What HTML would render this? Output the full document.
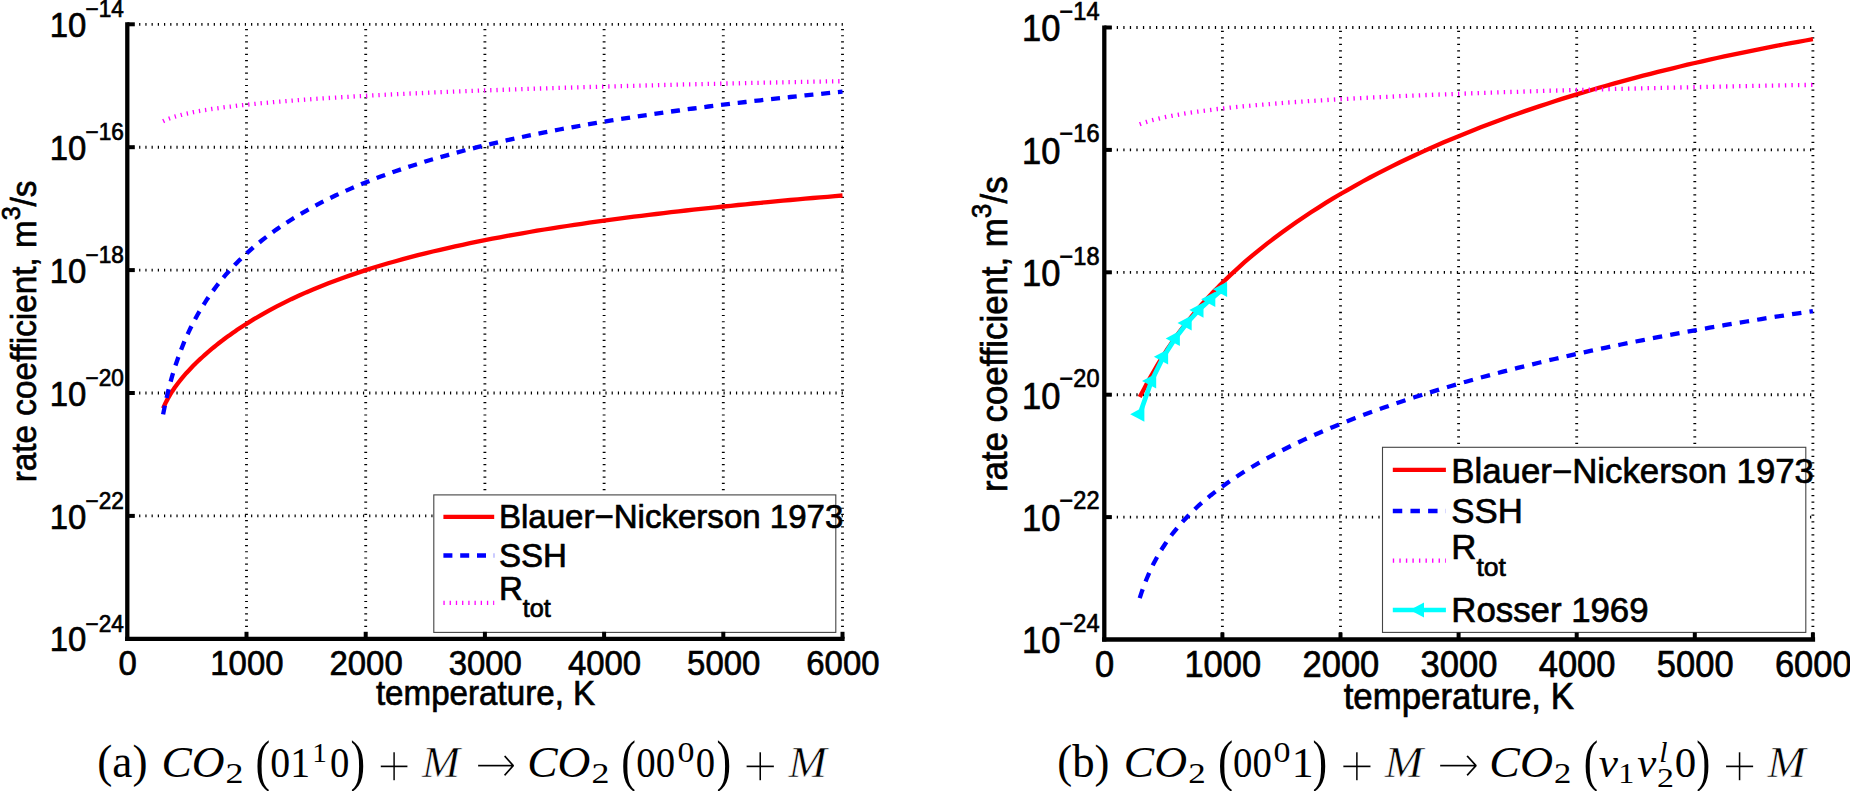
<!DOCTYPE html>
<html><head><meta charset="utf-8"><title>Rate coefficients</title>
<style>html,body{margin:0;padding:0;background:#fff;overflow:hidden}svg{display:block}</style></head><body>
<svg width="1850" height="791" viewBox="0 0 1850 791">
<rect width="1850" height="791" fill="#fff"/>
<g stroke="#000" stroke-width="2.85" stroke-dasharray="1.200 5.017" stroke-dashoffset="0.600" fill="none">
<path d="M127.3,24.3 H843.3"/>
<path d="M127.3,147.2 H843.3"/>
<path d="M127.3,270.1 H843.3"/>
<path d="M127.3,393.0 H843.3"/>
<path d="M127.3,515.9 H843.3"/>
<path d="M246.5,638.8 V26.9"/>
<path d="M365.7,638.8 V26.9"/>
<path d="M484.9,638.8 V26.9"/>
<path d="M604.1,638.8 V26.9"/>
<path d="M723.3,638.8 V26.9"/>
<path d="M842.5,638.8 V26.9"/>
</g>
<path d="M163.1,408.3 L165.4,403.3 L167.7,398.9 L170.0,394.9 L172.3,391.2 L174.6,387.7 L177.0,384.5 L179.3,381.5 L181.6,378.6 L183.9,375.9 L186.2,373.2 L188.6,370.7 L190.9,368.2 L193.2,365.8 L195.5,363.5 L197.8,361.3 L200.1,359.1 L202.5,357.0 L204.8,354.9 L207.1,352.8 L209.4,350.9 L211.7,348.9 L214.1,347.0 L216.4,345.1 L218.7,343.3 L221.0,341.5 L223.3,339.8 L225.6,338.0 L228.0,336.3 L230.3,334.7 L232.6,333.0 L234.9,331.4 L237.2,329.8 L239.5,328.3 L241.9,326.7 L244.2,325.2 L246.5,323.8 L253.9,319.2 L261.4,314.8 L268.9,310.6 L276.3,306.6 L283.8,302.9 L291.2,299.2 L298.6,295.8 L306.1,292.4 L313.6,289.3 L321.0,286.2 L328.4,283.3 L335.9,280.4 L343.4,277.7 L350.8,275.1 L358.2,272.6 L365.7,270.1 L373.1,267.8 L380.6,265.5 L388.1,263.3 L395.5,261.2 L402.9,259.1 L410.4,257.2 L417.9,255.2 L425.3,253.4 L432.8,251.5 L440.2,249.8 L447.7,248.1 L455.1,246.4 L462.6,244.8 L470.0,243.2 L477.4,241.7 L484.9,240.2 L492.4,238.7 L499.8,237.3 L507.2,235.9 L514.7,234.6 L522.1,233.3 L529.6,232.0 L537.0,230.7 L544.5,229.5 L551.9,228.3 L559.4,227.2 L566.9,226.0 L574.3,224.9 L581.8,223.8 L589.2,222.7 L596.6,221.7 L604.1,220.6 L611.5,219.6 L619.0,218.6 L626.4,217.7 L633.9,216.7 L641.3,215.8 L648.8,214.9 L656.2,214.0 L663.7,213.1 L671.1,212.2 L678.6,211.4 L686.0,210.5 L693.5,209.7 L700.9,208.9 L708.4,208.1 L715.8,207.3 L723.3,206.5 L730.8,205.8 L738.2,205.0 L745.6,204.3 L753.1,203.5 L760.5,202.8 L768.0,202.1 L775.4,201.4 L782.9,200.7 L790.3,200.0 L797.8,199.4 L805.2,198.7 L812.7,198.0 L820.1,197.4 L827.6,196.8 L835.0,196.1 L842.5,195.5" fill="none" stroke="#f00" stroke-width="4.3"/>
<path d="M163.1,414.4 L165.4,403.1 L167.7,393.1 L170.0,383.9 L172.3,375.6 L174.6,368.0 L177.0,361.0 L179.3,354.5 L181.6,348.4 L183.9,342.6 L186.2,337.3 L188.6,332.2 L190.9,327.3 L193.2,322.8 L195.5,318.4 L197.8,314.2 L200.1,310.3 L202.5,306.4 L204.8,302.8 L207.1,299.2 L209.4,295.8 L211.7,292.5 L214.1,289.4 L216.4,286.3 L218.7,283.3 L221.0,280.4 L223.3,277.7 L225.6,274.9 L228.0,272.3 L230.3,269.7 L232.6,267.2 L234.9,264.8 L237.2,262.4 L239.5,260.1 L241.9,257.9 L244.2,255.7 L246.5,253.5 L253.9,246.9 L261.4,240.8 L268.9,235.0 L276.3,229.6 L283.8,224.5 L291.2,219.7 L298.6,215.1 L306.1,210.8 L313.6,206.6 L321.0,202.7 L328.4,198.9 L335.9,195.3 L343.4,191.9 L350.8,188.6 L358.2,185.4 L365.7,182.4 L373.1,179.4 L380.6,176.6 L388.1,173.9 L395.5,171.2 L402.9,168.7 L410.4,166.2 L417.9,163.9 L425.3,161.5 L432.8,159.3 L440.2,157.2 L447.7,155.1 L455.1,153.0 L462.6,151.0 L470.0,149.1 L477.4,147.2 L484.9,145.4 L492.4,143.6 L499.8,141.9 L507.2,140.2 L514.7,138.6 L522.1,137.0 L529.6,135.4 L537.0,133.9 L544.5,132.4 L551.9,131.0 L559.4,129.5 L566.9,128.2 L574.3,126.8 L581.8,125.5 L589.2,124.2 L596.6,122.9 L604.1,121.6 L611.5,120.4 L619.0,119.2 L626.4,118.1 L633.9,116.9 L641.3,115.8 L648.8,114.7 L656.2,113.6 L663.7,112.5 L671.1,111.5 L678.6,110.5 L686.0,109.4 L693.5,108.5 L700.9,107.5 L708.4,106.5 L715.8,105.6 L723.3,104.7 L730.8,103.7 L738.2,102.9 L745.6,102.0 L753.1,101.1 L760.5,100.3 L768.0,99.4 L775.4,98.6 L782.9,97.8 L790.3,97.0 L797.8,96.2 L805.2,95.4 L812.7,94.6 L820.1,93.9 L827.6,93.1 L835.0,92.4 L842.5,91.7" fill="none" stroke="#00f" stroke-width="4.3" stroke-dasharray="9 7.8"/>
<path d="M163.1,121.2 L165.4,120.1 L167.7,119.1 L170.0,118.3 L172.3,117.5 L174.6,116.7 L177.0,116.0 L179.3,115.4 L181.6,114.8 L183.9,114.2 L186.2,113.7 L188.6,113.2 L190.9,112.7 L193.2,112.2 L195.5,111.8 L197.8,111.3 L200.1,110.9 L202.5,110.5 L204.8,110.1 L207.1,109.8 L209.4,109.4 L211.7,109.0 L214.1,108.7 L216.4,108.4 L218.7,108.1 L221.0,107.7 L223.3,107.4 L225.6,107.1 L228.0,106.8 L230.3,106.6 L232.6,106.3 L234.9,106.0 L237.2,105.7 L239.5,105.5 L241.9,105.2 L244.2,105.0 L246.5,104.7 L253.9,104.0 L261.4,103.2 L268.9,102.6 L276.3,101.9 L283.8,101.3 L291.2,100.7 L298.6,100.1 L306.1,99.6 L313.6,99.0 L321.0,98.5 L328.4,98.0 L335.9,97.6 L343.4,97.1 L350.8,96.7 L358.2,96.2 L365.7,95.8 L373.1,95.4 L380.6,95.0 L388.1,94.6 L395.5,94.3 L402.9,93.9 L410.4,93.5 L417.9,93.2 L425.3,92.9 L432.8,92.5 L440.2,92.2 L447.7,91.9 L455.1,91.6 L462.6,91.3 L470.0,91.0 L477.4,90.7 L484.9,90.4 L492.4,90.2 L499.8,89.9 L507.2,89.6 L514.7,89.4 L522.1,89.1 L529.6,88.9 L537.0,88.6 L544.5,88.4 L551.9,88.1 L559.4,87.9 L566.9,87.7 L574.3,87.4 L581.8,87.2 L589.2,87.0 L596.6,86.8 L604.1,86.6 L611.5,86.4 L619.0,86.2 L626.4,86.0 L633.9,85.8 L641.3,85.6 L648.8,85.4 L656.2,85.2 L663.7,85.0 L671.1,84.8 L678.6,84.6 L686.0,84.4 L693.5,84.3 L700.9,84.1 L708.4,83.9 L715.8,83.8 L723.3,83.6 L730.8,83.4 L738.2,83.3 L745.6,83.1 L753.1,82.9 L760.5,82.8 L768.0,82.6 L775.4,82.5 L782.9,82.3 L790.3,82.2 L797.8,82.0 L805.2,81.9 L812.7,81.7 L820.1,81.6 L827.6,81.4 L835.0,81.3 L842.5,81.2" fill="none" stroke="#f0f" stroke-width="4.3" stroke-dasharray="1.3 4.917"/>
<rect x="433.8" y="494.9" width="402.0" height="137.5" fill="#fff" stroke="#444" stroke-width="1.1"/>
<path d="M443.4,516.9 H494.2" stroke="#f00" stroke-width="4.3"/>
<text transform="translate(498.90 528.30) scale(0.9780 1)" font-size="33.8" text-anchor="start" font-family="Liberation Sans, sans-serif" stroke="#000" stroke-width="0.7">Blauer−Nickerson 1973</text>
<path d="M443.4,555.5 H494.2" stroke="#00f" stroke-width="4.3" stroke-dasharray="9 7.8"/>
<text transform="translate(498.90 567.20) scale(0.9780 1)" font-size="33.8" text-anchor="start" font-family="Liberation Sans, sans-serif" stroke="#000" stroke-width="0.7">SSH</text>
<path d="M443.4,602.8 H494.2" stroke="#f0f" stroke-width="4.3" stroke-dasharray="1.3 4.917"/>
<text transform="translate(498.90 600.10) scale(0.9780 1)" font-size="33.8" text-anchor="start" font-family="Liberation Sans, sans-serif" stroke="#000" stroke-width="0.7">R<tspan font-size="25.8" dy="16.8">tot</tspan></text>
<g stroke="#000" stroke-width="4.3" fill="none">
<path d="M127.3,22.2 V640.9"/>
<path d="M125.1,638.8 H844.6"/>
</g>
<g stroke="#000" stroke-width="4" fill="none">
<path d="M127.3,24.3 h7.5"/>
<path d="M127.3,147.2 h7.5"/>
<path d="M127.3,270.1 h7.5"/>
<path d="M127.3,393.0 h7.5"/>
<path d="M127.3,515.9 h7.5"/>
<path d="M246.5,638.8 v-7"/>
<path d="M365.7,638.8 v-7"/>
<path d="M484.9,638.8 v-7"/>
<path d="M604.1,638.8 v-7"/>
<path d="M723.3,638.8 v-7"/>
<path d="M842.5,638.8 v-7"/>
</g>
<text transform="translate(127.70 674.60) scale(0.9250 1)" font-size="35.6" text-anchor="middle" font-family="Liberation Sans, sans-serif" stroke="#000" stroke-width="0.7">0</text>
<text transform="translate(246.90 674.60) scale(0.9250 1)" font-size="35.6" text-anchor="middle" font-family="Liberation Sans, sans-serif" stroke="#000" stroke-width="0.7">1000</text>
<text transform="translate(366.10 674.60) scale(0.9250 1)" font-size="35.6" text-anchor="middle" font-family="Liberation Sans, sans-serif" stroke="#000" stroke-width="0.7">2000</text>
<text transform="translate(485.30 674.60) scale(0.9250 1)" font-size="35.6" text-anchor="middle" font-family="Liberation Sans, sans-serif" stroke="#000" stroke-width="0.7">3000</text>
<text transform="translate(604.50 674.60) scale(0.9250 1)" font-size="35.6" text-anchor="middle" font-family="Liberation Sans, sans-serif" stroke="#000" stroke-width="0.7">4000</text>
<text transform="translate(723.70 674.60) scale(0.9250 1)" font-size="35.6" text-anchor="middle" font-family="Liberation Sans, sans-serif" stroke="#000" stroke-width="0.7">5000</text>
<text transform="translate(842.90 674.60) scale(0.9250 1)" font-size="35.6" text-anchor="middle" font-family="Liberation Sans, sans-serif" stroke="#000" stroke-width="0.7">6000</text>
<text transform="translate(86.40 36.90) scale(0.9250 1)" font-size="35.6" text-anchor="end" font-family="Liberation Sans, sans-serif" stroke="#000" stroke-width="0.7">10</text>
<text transform="translate(85.60 17.00) scale(0.9500 1)" font-size="23.8" text-anchor="start" font-family="Liberation Sans, sans-serif" stroke="#000" stroke-width="0.7">−14</text>
<text transform="translate(86.40 159.80) scale(0.9250 1)" font-size="35.6" text-anchor="end" font-family="Liberation Sans, sans-serif" stroke="#000" stroke-width="0.7">10</text>
<text transform="translate(85.60 139.90) scale(0.9500 1)" font-size="23.8" text-anchor="start" font-family="Liberation Sans, sans-serif" stroke="#000" stroke-width="0.7">−16</text>
<text transform="translate(86.40 282.70) scale(0.9250 1)" font-size="35.6" text-anchor="end" font-family="Liberation Sans, sans-serif" stroke="#000" stroke-width="0.7">10</text>
<text transform="translate(85.60 262.80) scale(0.9500 1)" font-size="23.8" text-anchor="start" font-family="Liberation Sans, sans-serif" stroke="#000" stroke-width="0.7">−18</text>
<text transform="translate(86.40 405.60) scale(0.9250 1)" font-size="35.6" text-anchor="end" font-family="Liberation Sans, sans-serif" stroke="#000" stroke-width="0.7">10</text>
<text transform="translate(85.60 385.70) scale(0.9500 1)" font-size="23.8" text-anchor="start" font-family="Liberation Sans, sans-serif" stroke="#000" stroke-width="0.7">−20</text>
<text transform="translate(86.40 528.50) scale(0.9250 1)" font-size="35.6" text-anchor="end" font-family="Liberation Sans, sans-serif" stroke="#000" stroke-width="0.7">10</text>
<text transform="translate(85.60 508.60) scale(0.9500 1)" font-size="23.8" text-anchor="start" font-family="Liberation Sans, sans-serif" stroke="#000" stroke-width="0.7">−22</text>
<text transform="translate(86.40 651.40) scale(0.9250 1)" font-size="35.6" text-anchor="end" font-family="Liberation Sans, sans-serif" stroke="#000" stroke-width="0.7">10</text>
<text transform="translate(85.60 631.50) scale(0.9500 1)" font-size="23.8" text-anchor="start" font-family="Liberation Sans, sans-serif" stroke="#000" stroke-width="0.7">−24</text>
<text transform="translate(375.90 704.90) scale(0.9420 1)" font-size="35.2" text-anchor="start" font-family="Liberation Sans, sans-serif" stroke="#000" stroke-width="0.7">temperature, K</text>
<text transform="translate(36.40 482.20) rotate(-90) scale(0.9450 1)" font-size="35.2" text-anchor="start" font-family="Liberation Sans, sans-serif" stroke="#000" stroke-width="0.7">rate coefficient, m<tspan font-size="26.6" dy="-16.4">3</tspan><tspan dy="16.4">/s</tspan></text>
<g stroke="#000" stroke-width="2.85" stroke-dasharray="1.262 5.278" stroke-dashoffset="0.631" fill="none">
<path d="M1104.3,27.5 H1813.7"/>
<path d="M1104.3,149.9 H1813.7"/>
<path d="M1104.3,272.3 H1813.7"/>
<path d="M1104.3,394.7 H1813.7"/>
<path d="M1104.3,517.1 H1813.7"/>
<path d="M1222.4,639.5 V30.1"/>
<path d="M1340.5,639.5 V30.1"/>
<path d="M1458.6,639.5 V30.1"/>
<path d="M1576.7,639.5 V30.1"/>
<path d="M1694.8,639.5 V30.1"/>
<path d="M1812.9,639.5 V30.1"/>
</g>
<path d="M1139.7,397.0 L1142.0,392.7 L1144.3,388.4 L1146.6,384.1 L1148.9,379.9 L1151.2,375.7 L1153.5,371.7 L1155.8,367.8 L1158.1,363.9 L1160.4,360.1 L1162.7,356.4 L1165.0,352.9 L1167.3,349.3 L1169.6,345.9 L1171.9,342.5 L1174.2,339.3 L1176.5,336.0 L1178.8,332.9 L1181.1,329.8 L1183.4,326.8 L1185.7,323.8 L1188.0,320.9 L1190.3,318.1 L1192.5,315.3 L1194.8,312.5 L1197.1,309.8 L1199.4,307.2 L1201.7,304.5 L1204.0,302.0 L1206.3,299.4 L1208.6,296.9 L1210.9,294.5 L1213.2,292.1 L1215.5,289.7 L1217.8,287.4 L1220.1,285.0 L1222.4,282.8 L1229.8,275.6 L1237.2,268.8 L1244.5,262.2 L1251.9,255.9 L1259.3,249.8 L1266.7,243.9 L1274.1,238.3 L1281.5,232.7 L1288.8,227.4 L1296.2,222.2 L1303.6,217.2 L1311.0,212.3 L1318.4,207.6 L1325.7,202.9 L1333.1,198.4 L1340.5,194.0 L1347.9,189.8 L1355.3,185.6 L1362.6,181.5 L1370.0,177.5 L1377.4,173.7 L1384.8,169.9 L1392.2,166.2 L1399.5,162.5 L1406.9,159.0 L1414.3,155.5 L1421.7,152.1 L1429.1,148.8 L1436.5,145.5 L1443.8,142.3 L1451.2,139.2 L1458.6,136.2 L1466.0,133.2 L1473.4,130.2 L1480.7,127.3 L1488.1,124.5 L1495.5,121.7 L1502.9,119.0 L1510.3,116.3 L1517.6,113.7 L1525.0,111.1 L1532.4,108.6 L1539.8,106.1 L1547.2,103.7 L1554.6,101.3 L1561.9,98.9 L1569.3,96.6 L1576.7,94.4 L1584.1,92.1 L1591.5,90.0 L1598.8,87.8 L1606.2,85.7 L1613.6,83.6 L1621.0,81.6 L1628.4,79.6 L1635.8,77.6 L1643.1,75.7 L1650.5,73.8 L1657.9,71.9 L1665.3,70.1 L1672.7,68.3 L1680.0,66.5 L1687.4,64.7 L1694.8,63.0 L1702.2,61.3 L1709.6,59.7 L1716.9,58.0 L1724.3,56.4 L1731.7,54.9 L1739.1,53.3 L1746.5,51.8 L1753.8,50.3 L1761.2,48.8 L1768.6,47.4 L1776.0,45.9 L1783.4,44.5 L1790.8,43.2 L1798.1,41.8 L1805.5,40.5 L1812.9,39.2" fill="none" stroke="#f00" stroke-width="4.3"/>
<path d="M1139.7,598.2 L1142.0,591.2 L1144.3,584.8 L1146.6,579.0 L1148.9,573.6 L1151.2,568.5 L1153.5,563.8 L1155.8,559.4 L1158.1,555.3 L1160.4,551.4 L1162.7,547.7 L1165.0,544.2 L1167.3,540.8 L1169.6,537.6 L1171.9,534.5 L1174.2,531.6 L1176.5,528.8 L1178.8,526.0 L1181.1,523.4 L1183.4,520.8 L1185.7,518.4 L1188.0,516.0 L1190.3,513.6 L1192.5,511.4 L1194.8,509.2 L1197.1,507.0 L1199.4,504.9 L1201.7,502.9 L1204.0,500.9 L1206.3,499.0 L1208.6,497.1 L1210.9,495.2 L1213.2,493.4 L1215.5,491.6 L1217.8,489.8 L1220.1,488.1 L1222.4,486.4 L1229.8,481.2 L1237.2,476.2 L1244.5,471.5 L1251.9,467.0 L1259.3,462.7 L1266.7,458.5 L1274.1,454.5 L1281.5,450.7 L1288.8,447.0 L1296.2,443.4 L1303.6,439.9 L1311.0,436.5 L1318.4,433.2 L1325.7,430.0 L1333.1,426.9 L1340.5,423.9 L1347.9,421.0 L1355.3,418.1 L1362.6,415.3 L1370.0,412.5 L1377.4,409.9 L1384.8,407.3 L1392.2,404.7 L1399.5,402.2 L1406.9,399.7 L1414.3,397.3 L1421.7,395.0 L1429.1,392.6 L1436.5,390.4 L1443.8,388.1 L1451.2,386.0 L1458.6,383.8 L1466.0,381.7 L1473.4,379.6 L1480.7,377.6 L1488.1,375.6 L1495.5,373.6 L1502.9,371.7 L1510.3,369.8 L1517.6,367.9 L1525.0,366.1 L1532.4,364.3 L1539.8,362.5 L1547.2,360.7 L1554.6,359.0 L1561.9,357.3 L1569.3,355.6 L1576.7,354.0 L1584.1,352.3 L1591.5,350.7 L1598.8,349.1 L1606.2,347.6 L1613.6,346.0 L1621.0,344.5 L1628.4,343.0 L1635.8,341.5 L1643.1,340.1 L1650.5,338.6 L1657.9,337.2 L1665.3,335.8 L1672.7,334.4 L1680.0,333.0 L1687.4,331.7 L1694.8,330.4 L1702.2,329.0 L1709.6,327.7 L1716.9,326.5 L1724.3,325.2 L1731.7,323.9 L1739.1,322.7 L1746.5,321.5 L1753.8,320.3 L1761.2,319.1 L1768.6,317.9 L1776.0,316.7 L1783.4,315.6 L1790.8,314.4 L1798.1,313.3 L1805.5,312.2 L1812.9,311.1" fill="none" stroke="#00f" stroke-width="4.3" stroke-dasharray="9.45 8.2"/>
<path d="M1139.7,124.2 L1142.0,123.4 L1144.3,122.6 L1146.6,121.9 L1148.9,121.2 L1151.2,120.5 L1153.5,119.9 L1155.8,119.3 L1158.1,118.8 L1160.4,118.2 L1162.7,117.7 L1165.0,117.2 L1167.3,116.7 L1169.6,116.3 L1171.9,115.8 L1174.2,115.4 L1176.5,115.0 L1178.8,114.6 L1181.1,114.2 L1183.4,113.8 L1185.7,113.4 L1188.0,113.1 L1190.3,112.7 L1192.5,112.4 L1194.8,112.0 L1197.1,111.7 L1199.4,111.4 L1201.7,111.1 L1204.0,110.8 L1206.3,110.5 L1208.6,110.2 L1210.9,109.9 L1213.2,109.6 L1215.5,109.3 L1217.8,109.0 L1220.1,108.8 L1222.4,108.5 L1229.8,107.7 L1237.2,106.9 L1244.5,106.2 L1251.9,105.5 L1259.3,104.9 L1266.7,104.3 L1274.1,103.7 L1281.5,103.1 L1288.8,102.5 L1296.2,102.0 L1303.6,101.5 L1311.0,101.0 L1318.4,100.5 L1325.7,100.1 L1333.1,99.6 L1340.5,99.2 L1347.9,98.8 L1355.3,98.4 L1362.6,98.0 L1370.0,97.6 L1377.4,97.3 L1384.8,96.9 L1392.2,96.6 L1399.5,96.2 L1406.9,95.9 L1414.3,95.6 L1421.7,95.2 L1429.1,94.9 L1436.5,94.6 L1443.8,94.4 L1451.2,94.1 L1458.6,93.8 L1466.0,93.5 L1473.4,93.2 L1480.7,93.0 L1488.1,92.7 L1495.5,92.5 L1502.9,92.2 L1510.3,92.0 L1517.6,91.8 L1525.0,91.5 L1532.4,91.3 L1539.8,91.1 L1547.2,90.8 L1554.6,90.6 L1561.9,90.4 L1569.3,90.2 L1576.7,90.0 L1584.1,89.8 L1591.5,89.6 L1598.8,89.4 L1606.2,89.2 L1613.6,89.0 L1621.0,88.8 L1628.4,88.7 L1635.8,88.5 L1643.1,88.3 L1650.5,88.1 L1657.9,88.0 L1665.3,87.8 L1672.7,87.6 L1680.0,87.5 L1687.4,87.3 L1694.8,87.1 L1702.2,87.0 L1709.6,86.8 L1716.9,86.7 L1724.3,86.5 L1731.7,86.4 L1739.1,86.2 L1746.5,86.1 L1753.8,85.9 L1761.2,85.8 L1768.6,85.6 L1776.0,85.5 L1783.4,85.4 L1790.8,85.2 L1798.1,85.1 L1805.5,85.0 L1812.9,84.8" fill="none" stroke="#f0f" stroke-width="4.3" stroke-dasharray="1.37 5.17"/>
<path d="M1139.7,414.2 L1151.5,381.0 L1163.4,356.8 L1175.2,338.4 L1187.0,323.0 L1198.8,310.1 L1210.6,299.3 L1222.4,289.3" fill="none" stroke="#0ff" stroke-width="4.8" stroke-linejoin="round"/>
<path d="M1130.2,414.2 L1144.4,406.6 V421.8 Z" fill="#0ff"/>
<path d="M1142.0,381.0 L1156.2,373.4 V388.6 Z" fill="#0ff"/>
<path d="M1153.9,356.8 L1168.1,349.2 V364.4 Z" fill="#0ff"/>
<path d="M1165.7,338.4 L1179.9,330.8 V346.0 Z" fill="#0ff"/>
<path d="M1177.5,323.0 L1191.7,315.4 V330.6 Z" fill="#0ff"/>
<path d="M1189.3,310.1 L1203.5,302.5 V317.7 Z" fill="#0ff"/>
<path d="M1201.1,299.3 L1215.3,291.7 V306.9 Z" fill="#0ff"/>
<path d="M1212.9,289.3 L1227.1,281.7 V296.9 Z" fill="#0ff"/>
<rect x="1382.5" y="447.3" width="423.3" height="185.1" fill="#fff" stroke="#444" stroke-width="1.1"/>
<path d="M1392.8,469.8 H1445.9" stroke="#f00" stroke-width="4.3"/>
<text transform="translate(1451.30 482.80) scale(1.0060 1)" font-size="34.6" text-anchor="start" font-family="Liberation Sans, sans-serif" stroke="#000" stroke-width="0.7">Blauer−Nickerson 1973</text>
<path d="M1392.8,511 H1445.9" stroke="#00f" stroke-width="4.3" stroke-dasharray="9.45 8.2"/>
<text transform="translate(1451.30 523.00) scale(1.0060 1)" font-size="34.6" text-anchor="start" font-family="Liberation Sans, sans-serif" stroke="#000" stroke-width="0.7">SSH</text>
<path d="M1392.8,560.6 H1445.9" stroke="#f0f" stroke-width="4.3" stroke-dasharray="1.37 5.17"/>
<text transform="translate(1451.30 559.00) scale(1.0060 1)" font-size="34.6" text-anchor="start" font-family="Liberation Sans, sans-serif" stroke="#000" stroke-width="0.7">R<tspan font-size="26.4" dy="17.2">tot</tspan></text>
<path d="M1392.8,610 H1445.9" stroke="#0ff" stroke-width="4.3"/>
<path d="M1409.8,610 L1424.0,602.4 V617.6 Z" fill="#0ff"/>
<text transform="translate(1451.30 622.00) scale(1.0060 1)" font-size="34.6" text-anchor="start" font-family="Liberation Sans, sans-serif" stroke="#000" stroke-width="0.7">Rosser 1969</text>
<g stroke="#000" stroke-width="4.3" fill="none">
<path d="M1104.3,25.4 V641.6"/>
<path d="M1102.1,639.5 H1815.1"/>
</g>
<g stroke="#000" stroke-width="4" fill="none">
<path d="M1104.3,27.5 h7.5"/>
<path d="M1104.3,149.9 h7.5"/>
<path d="M1104.3,272.3 h7.5"/>
<path d="M1104.3,394.7 h7.5"/>
<path d="M1104.3,517.1 h7.5"/>
<path d="M1222.4,639.5 v-7"/>
<path d="M1340.5,639.5 v-7"/>
<path d="M1458.6,639.5 v-7"/>
<path d="M1576.7,639.5 v-7"/>
<path d="M1694.8,639.5 v-7"/>
<path d="M1812.9,639.5 v-7"/>
</g>
<text transform="translate(1104.70 676.80) scale(0.9350 1)" font-size="36.9" text-anchor="middle" font-family="Liberation Sans, sans-serif" stroke="#000" stroke-width="0.7">0</text>
<text transform="translate(1222.80 676.80) scale(0.9350 1)" font-size="36.9" text-anchor="middle" font-family="Liberation Sans, sans-serif" stroke="#000" stroke-width="0.7">1000</text>
<text transform="translate(1340.90 676.80) scale(0.9350 1)" font-size="36.9" text-anchor="middle" font-family="Liberation Sans, sans-serif" stroke="#000" stroke-width="0.7">2000</text>
<text transform="translate(1459.00 676.80) scale(0.9350 1)" font-size="36.9" text-anchor="middle" font-family="Liberation Sans, sans-serif" stroke="#000" stroke-width="0.7">3000</text>
<text transform="translate(1577.10 676.80) scale(0.9350 1)" font-size="36.9" text-anchor="middle" font-family="Liberation Sans, sans-serif" stroke="#000" stroke-width="0.7">4000</text>
<text transform="translate(1695.20 676.80) scale(0.9350 1)" font-size="36.9" text-anchor="middle" font-family="Liberation Sans, sans-serif" stroke="#000" stroke-width="0.7">5000</text>
<text transform="translate(1813.30 676.80) scale(0.9350 1)" font-size="36.9" text-anchor="middle" font-family="Liberation Sans, sans-serif" stroke="#000" stroke-width="0.7">6000</text>
<text transform="translate(1060.40 41.30) scale(0.9350 1)" font-size="36.9" text-anchor="end" font-family="Liberation Sans, sans-serif" stroke="#000" stroke-width="0.7">10</text>
<text transform="translate(1059.60 19.70) scale(0.9300 1)" font-size="25.3" text-anchor="start" font-family="Liberation Sans, sans-serif" stroke="#000" stroke-width="0.7">−14</text>
<text transform="translate(1060.40 163.70) scale(0.9350 1)" font-size="36.9" text-anchor="end" font-family="Liberation Sans, sans-serif" stroke="#000" stroke-width="0.7">10</text>
<text transform="translate(1059.60 142.10) scale(0.9300 1)" font-size="25.3" text-anchor="start" font-family="Liberation Sans, sans-serif" stroke="#000" stroke-width="0.7">−16</text>
<text transform="translate(1060.40 286.10) scale(0.9350 1)" font-size="36.9" text-anchor="end" font-family="Liberation Sans, sans-serif" stroke="#000" stroke-width="0.7">10</text>
<text transform="translate(1059.60 264.50) scale(0.9300 1)" font-size="25.3" text-anchor="start" font-family="Liberation Sans, sans-serif" stroke="#000" stroke-width="0.7">−18</text>
<text transform="translate(1060.40 408.50) scale(0.9350 1)" font-size="36.9" text-anchor="end" font-family="Liberation Sans, sans-serif" stroke="#000" stroke-width="0.7">10</text>
<text transform="translate(1059.60 386.90) scale(0.9300 1)" font-size="25.3" text-anchor="start" font-family="Liberation Sans, sans-serif" stroke="#000" stroke-width="0.7">−20</text>
<text transform="translate(1060.40 530.90) scale(0.9350 1)" font-size="36.9" text-anchor="end" font-family="Liberation Sans, sans-serif" stroke="#000" stroke-width="0.7">10</text>
<text transform="translate(1059.60 509.30) scale(0.9300 1)" font-size="25.3" text-anchor="start" font-family="Liberation Sans, sans-serif" stroke="#000" stroke-width="0.7">−22</text>
<text transform="translate(1060.40 653.30) scale(0.9350 1)" font-size="36.9" text-anchor="end" font-family="Liberation Sans, sans-serif" stroke="#000" stroke-width="0.7">10</text>
<text transform="translate(1059.60 631.70) scale(0.9300 1)" font-size="25.3" text-anchor="start" font-family="Liberation Sans, sans-serif" stroke="#000" stroke-width="0.7">−24</text>
<text transform="translate(1343.70 708.90) scale(0.9620 1)" font-size="36.2" text-anchor="start" font-family="Liberation Sans, sans-serif" stroke="#000" stroke-width="0.7">temperature, K</text>
<text transform="translate(1007.30 492.10) rotate(-90) scale(0.9610 1)" font-size="36.2" text-anchor="start" font-family="Liberation Sans, sans-serif" stroke="#000" stroke-width="0.7">rate coefficient, m<tspan font-size="27.4" dy="-16.8">3</tspan><tspan dy="16.8">/s</tspan></text>
<g font-family="Liberation Serif, serif" fill="#000">
<text transform="matrix(0.4530 0 0 0.4610 97.21 777.19)" font-size="100">(a)</text>
<text transform="matrix(0.4542 0 0 0.4465 161.47 776.76)" font-size="100" font-style="italic">CO</text>
<text transform="matrix(0.3592 0 0 0.2855 225.62 782.60)" font-size="100">2</text>
<text transform="matrix(0.4400 0 0 0.5602 255.47 779.67)" font-size="100">(</text>
<text transform="matrix(0.3981 0 0 0.4298 270.28 777.18)" font-size="100">01</text>
<text transform="matrix(0.2926 0 0 0.2787 312.33 761.80)" font-size="100">1</text>
<text transform="matrix(0.3869 0 0 0.4298 329.93 777.18)" font-size="100">0</text>
<text transform="matrix(0.4400 0 0 0.5602 350.48 779.67)" font-size="100">)</text>
<text transform="matrix(0.6060 0 0 0.6290 376.93 787.88)" font-size="100" stroke="#fff" stroke-width="2.43">+</text>
<text transform="matrix(0.4559 0 0 0.4490 422.03 776.90)" font-size="100" font-style="italic" stroke="#fff" stroke-width="1.33">M</text>
<text transform="matrix(0.5260 0 0 0.5821 473.69 784.40)" font-size="100" font-family="DejaVu Sans, sans-serif" stroke="#fff" stroke-width="5.05">→</text>
<text transform="matrix(0.4549 0 0 0.4465 527.27 776.76)" font-size="100" font-style="italic">CO</text>
<text transform="matrix(0.3592 0 0 0.2855 591.52 782.60)" font-size="100">2</text>
<text transform="matrix(0.4400 0 0 0.5602 621.37 779.67)" font-size="100">(</text>
<text transform="matrix(0.3886 0 0 0.4298 636.22 777.18)" font-size="100">00</text>
<text transform="matrix(0.3398 0 0 0.2845 677.51 761.92)" font-size="100">0</text>
<text transform="matrix(0.3869 0 0 0.4298 695.83 777.18)" font-size="100">0</text>
<text transform="matrix(0.4400 0 0 0.5602 716.38 779.67)" font-size="100">)</text>
<text transform="matrix(0.6189 0 0 0.6290 742.77 787.88)" font-size="100" stroke="#fff" stroke-width="2.40">+</text>
<text transform="matrix(0.4604 0 0 0.4490 788.54 776.90)" font-size="100" font-style="italic" stroke="#fff" stroke-width="1.32">M</text>
<text transform="matrix(0.4480 0 0 0.4610 1057.23 777.19)" font-size="100">(b)</text>
<text transform="matrix(0.4549 0 0 0.4465 1123.87 776.76)" font-size="100" font-style="italic">CO</text>
<text transform="matrix(0.3492 0 0 0.2855 1188.17 782.60)" font-size="100">2</text>
<text transform="matrix(0.4555 0 0 0.5602 1218.10 779.67)" font-size="100">(</text>
<text transform="matrix(0.3886 0 0 0.4298 1233.02 777.18)" font-size="100">00</text>
<text transform="matrix(0.3398 0 0 0.2845 1273.61 761.92)" font-size="100">0</text>
<text transform="matrix(0.4374 0 0 0.4181 1291.66 776.60)" font-size="100">1</text>
<text transform="matrix(0.4400 0 0 0.5602 1312.58 779.67)" font-size="100">)</text>
<text transform="matrix(0.6168 0 0 0.6290 1339.48 787.88)" font-size="100" stroke="#fff" stroke-width="2.41">+</text>
<text transform="matrix(0.4615 0 0 0.4490 1384.64 776.90)" font-size="100" font-style="italic" stroke="#fff" stroke-width="1.32">M</text>
<text transform="matrix(0.5356 0 0 0.5821 1435.64 784.40)" font-size="100" font-family="DejaVu Sans, sans-serif" stroke="#fff" stroke-width="5.01">→</text>
<text transform="matrix(0.4580 0 0 0.4465 1489.35 776.76)" font-size="100" font-style="italic">CO</text>
<text transform="matrix(0.3467 0 0 0.2855 1554.08 782.60)" font-size="100">2</text>
<text transform="matrix(0.4322 0 0 0.5602 1583.70 779.67)" font-size="100">(</text>
<text transform="matrix(0.4324 0 0 0.4139 1598.81 776.90)" font-size="100" font-style="italic">v</text>
<text transform="matrix(0.3210 0 0 0.2863 1618.18 782.50)" font-size="100">1</text>
<text transform="matrix(0.4277 0 0 0.4139 1637.22 776.90)" font-size="100" font-style="italic">v</text>
<text transform="matrix(0.2961 0 0 0.2897 1659.22 761.70)" font-size="100" font-style="italic">l</text>
<text transform="matrix(0.3393 0 0 0.2749 1657.01 787.10)" font-size="100">2</text>
<text transform="matrix(0.4294 0 0 0.4298 1674.66 777.18)" font-size="100">0</text>
<text transform="matrix(0.4205 0 0 0.5602 1696.24 779.67)" font-size="100">)</text>
<text transform="matrix(0.6146 0 0 0.6290 1722.29 787.88)" font-size="100" stroke="#fff" stroke-width="2.41">+</text>
<text transform="matrix(0.4592 0 0 0.4490 1767.44 776.90)" font-size="100" font-style="italic" stroke="#fff" stroke-width="1.32">M</text>
</g>
</svg></body></html>
